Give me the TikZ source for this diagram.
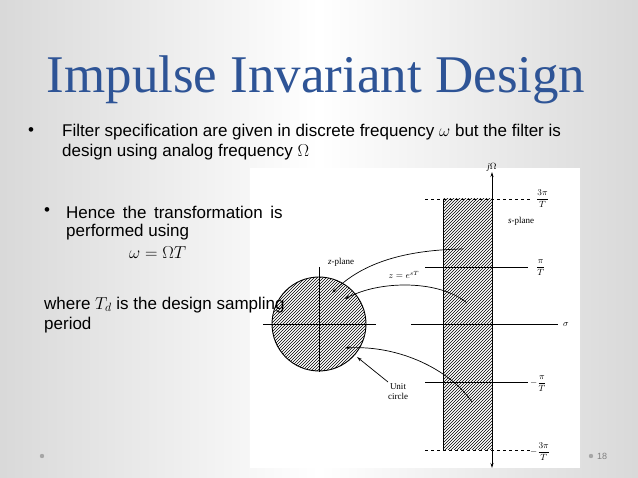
\documentclass[tikz,border=0pt]{standalone}
\usepackage{fontspec}
\setmainfont{Liberation Sans}
\newfontfamily\titlefont{Liberation Serif}
\newfontfamily\figfont{Liberation Serif}
\usetikzlibrary{patterns,arrows.meta,shadings}
\definecolor{titleblue}{RGB}{46,84,150}
\begin{document}
\begin{tikzpicture}[x=1pt,y=-1pt,
  txt/.style={inner sep=0pt,anchor=west,font=\fontsize{17}{20}\selectfont},
  fig/.style={inner sep=0pt,font=\figfont\fontsize{9}{10}\selectfont},
  ax/.style={line width=0.8pt},
  arr/.style={line width=0.7pt,-{Stealth[length=5pt,width=3pt]}}]
\useasboundingbox (0,0) rectangle (638,478);
\shade[left color=gray!30,right color=white] (0,0) rectangle (319,478);
\shade[left color=white,right color=gray!30] (319,0) rectangle (638,478);
\fill[white] (250,168) rectangle (580,468);
% title
\node[inner sep=0pt,font=\titlefont\fontsize{53}{58}\selectfont,text=titleblue] (title) at (316,80) {Impulse Invariant Design};
\node[txt] (b1) at (28,132) {•};
\node[txt] (t1) at (62,132) {Filter specification are given in discrete frequency $\omega$ but the filter is};
\node[txt] (t1b) at (62,152) {design using analog frequency $\Omega$};
% strip
\fill[pattern=north east lines] (443,199) rectangle (492,450);
\draw[line width=0.9pt] (443,199) -- (443,450);
\draw[line width=0.9pt] (492,199) -- (492,450);
\coordinate (jtop) at (492,172);
\coordinate (jbot) at (492,468);
\draw[ax,{Stealth[length=5pt,width=3pt]}-{Stealth[length=5pt,width=3pt]}] (jbot) -- (jtop);
\node[fig,anchor=south] (jO) at (492,172) {\textit{j}$\Omega$};
\draw[dashed,line width=0.6pt] (425,199) -- (530,199);
\draw[dashed,line width=0.6pt] (425,450) -- (530,450);
\draw[ax] (425,267) -- (528,267);
\draw[ax] (425,382) -- (528,382);
\draw[ax] (411,324) -- (558,324);
\node[fig,anchor=west] (l1) at (536,199) {$\displaystyle\frac{3\pi}{T}$};
\node[fig,anchor=west] (l2) at (536,268) {$\displaystyle\frac{\pi}{T}$};
\node[fig,anchor=west] (l3) at (530,384) {$\displaystyle-\frac{\pi}{T}$};
\node[fig,anchor=west] (l4) at (530,452) {$\displaystyle-\frac{3\pi}{T}$};
\node[fig] (sig) at (566,325) {$\sigma$};
\node[fig] (splane) at (521,221) {\textit{s}-plane};
% circle
\fill[pattern=north east lines] (319,324) circle (47);
\draw[line width=0.9pt] (319,324) circle (47);
\draw[ax] (263,324) -- (376,324);
\draw[ax] (319,267) -- (319,372);
\node[txt] (b2) at (44,212) {•};
\node[txt] (t2) at (66,212) {Hence\, the\, transformation\, is};
\node[txt] (t3) at (66,232) {performed using};
\node[txt] (t4) at (129,253) {$\omega = \Omega T$};
\node[txt] (t5) at (44,305) {where $T_d$ is the design sampling};
\node[txt] (t6) at (44,325) {period};
\node[fig] (zpl) at (341,262) {\textit{z}-plane};
\node[fig] (zeq) at (404,275) {$z = e^{sT}$};
\node[fig,align=center] (uc) at (398,392) {Unit\\circle};
% arcs
\draw[arr] (463,249) .. controls (400,250) and (360,265) .. (332,293);
\draw[arr] (467,303) .. controls (440,280) and (380,280) .. (345,299);
\draw[arr] (472,402) .. controls (450,370) and (400,345) .. (345,348);
\draw[arr] (388,382) -- (357,357);
% footer
\fill[gray!70] (42,456) circle (2.2);
\fill[gray!70] (591,456) circle (2.2);
\node[inner sep=0pt,anchor=west,font=\fontsize{9}{10}\selectfont,text=gray] (pg) at (597,456) {18};
\end{tikzpicture}
\end{document}
